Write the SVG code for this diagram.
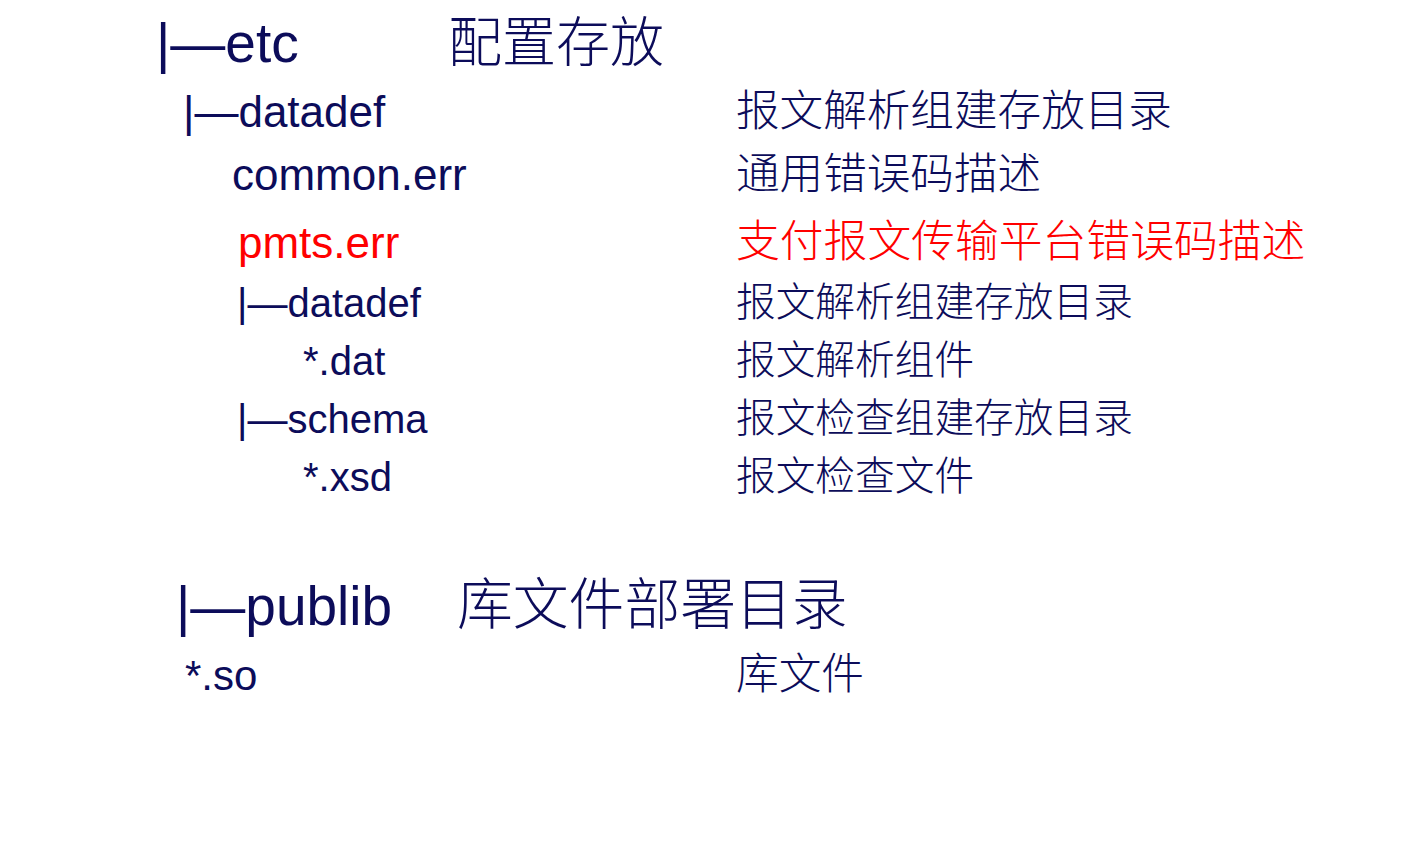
<svg xmlns="http://www.w3.org/2000/svg" width="1404" height="862" viewBox="0 0 1404 862">
<style>
text{font-family:"Liberation Sans","Noto Sans CJK SC",sans-serif;fill:#0c0c5a}
.cn{font-family:"Noto Sans CJK SC",sans-serif;font-weight:300}
.red{fill:#ff0000}
</style>
<rect width="1404" height="862" fill="#ffffff"/>
<g id="etc">
<text x="156" y="62" font-size="55">|—etc</text>
<text class="cn" x="448" y="62" font-size="54">配置存放</text>
</g>
<g id="datadef1">
<text x="183" y="127" font-size="44">|—datadef</text>
<text class="cn" x="736" y="126" font-size="43.6">报文解析组建存放目录</text>
</g>
<g id="common">
<text x="232" y="190" font-size="44">common.err</text>
<text class="cn" x="736" y="189" font-size="43.6">通用错误码描述</text>
</g>
<g id="pmts">
<text class="red" x="238" y="258" font-size="44">pmts.err</text>
<text class="cn red" x="736" y="257" font-size="43.8">支付报文传输平台错误码描述</text>
</g>
<g id="datadef2">
<text x="237" y="317" font-size="40">|—datadef</text>
<text class="cn" x="736" y="316" font-size="39.7">报文解析组建存放目录</text>
</g>
<g id="dat">
<text x="303" y="375" font-size="40">*.dat</text>
<text class="cn" x="736" y="374" font-size="39.7">报文解析组件</text>
</g>
<g id="schema">
<text x="237" y="433" font-size="40">|—schema</text>
<text class="cn" x="736" y="432" font-size="39.7">报文检查组建存放目录</text>
</g>
<g id="xsd">
<text x="303" y="491" font-size="40">*.xsd</text>
<text class="cn" x="736" y="490" font-size="39.7">报文检查文件</text>
</g>
<g id="publib">
<text x="176" y="625" font-size="55">|—publib</text>
<text class="cn" x="457" y="624" font-size="55.8">库文件部署目录</text>
</g>
<g id="so">
<text x="185" y="690" font-size="42">*.so</text>
<text class="cn" x="736" y="689" font-size="42.7">库文件</text>
</g>
<g id="connectors"></g>
</svg>
